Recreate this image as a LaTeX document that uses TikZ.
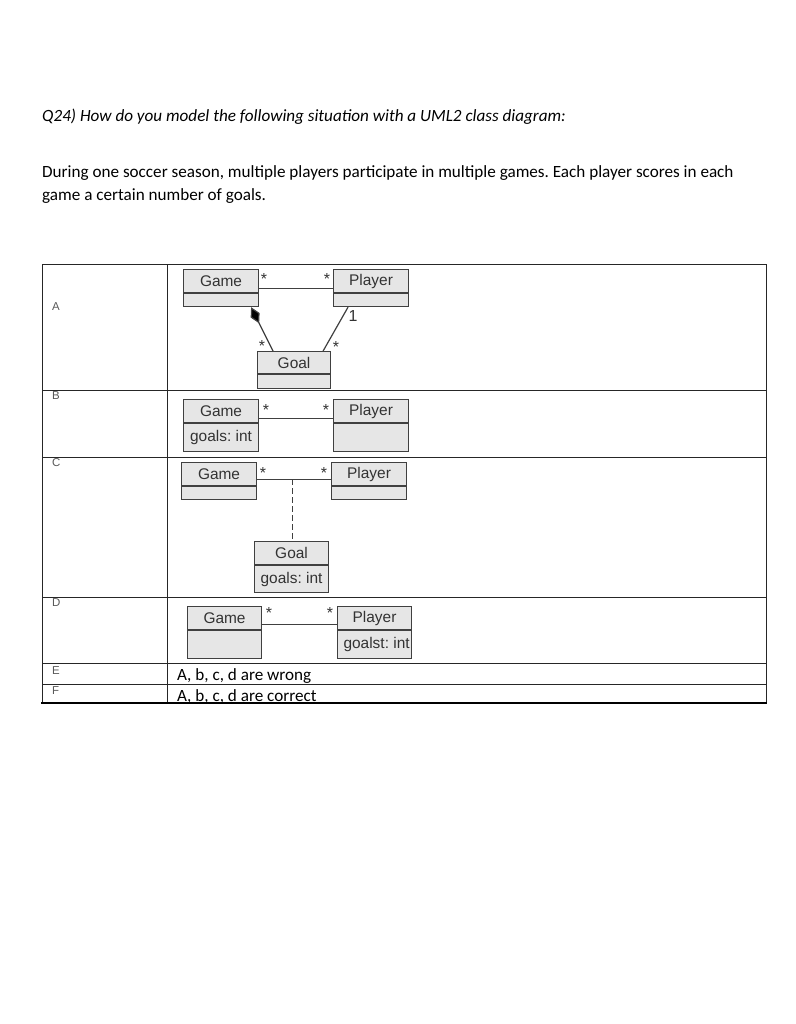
\documentclass[tikz,border=0pt]{standalone}
\usepackage{fontspec}
\setmainfont{Carlito}
\newfontfamily\umlfont{Liberation Sans}
\usetikzlibrary{positioning,arrows.meta}
\definecolor{umlfill}{HTML}{E6E6E6}
\definecolor{umlline}{HTML}{404040}
\definecolor{umltext}{HTML}{333333}
\tikzset{
  cls/.style={draw=umlline, fill=umlfill, line width=1.1bp, inner sep=0pt,
    minimum width=75bp, minimum height=23bp, text=umltext,
    font=\umlfont\fontsize{15.5}{17}\selectfont},
  att/.style={cls, minimum height=13bp},
  mult/.style={anchor=base, inner sep=0pt, text=umltext, font=\umlfont\fontsize{16}{16}\selectfont},
  assoc/.style={umlline, line width=1.2bp},
  rowlbl/.style={anchor=west, inner sep=0pt, text=black!65,
    font=\umlfont\fontsize{11.5}{12}\selectfont},
  txt/.style={anchor=base west, inner sep=0pt, font=\fontsize{17.2}{20}\selectfont},
  grid/.style={black!85, line width=1bp},
}
\begin{document}
\frenchspacing
\begin{tikzpicture}[x=1bp,y=-1bp]
    \fill[white] (0,0) rectangle (796,1024);
    \useasboundingbox (0,0) rectangle (796,1024);
    %% question
    \node[txt, font=\fontsize{17.2}{20}\selectfont\itshape] (question) at (42,121)
        {Q24) How do you model the following situation with a UML2 class diagram:};
    \node[txt] (story1) at (42,177)
        {During one soccer season, multiple players participate in multiple games. Each player scores in each};
    \node[txt] (story2) at (42,200) {game a certain number of goals.};
    %% table
    \draw[grid] (42,264) rectangle (766,703);
    \draw[grid] (167,264) -- (167,703);
    \foreach \y in {390,457,597,663,684}
        \draw[grid] (42,\y) -- (766,\y);
    \node[rowlbl] (lblA) at (52,307) {A};
    \node[rowlbl] (lblB) at (52,396) {B};
    \node[rowlbl] (lblC) at (52,463) {C};
    \node[rowlbl] (lblD) at (52,603) {D};
    \node[rowlbl] (lblE) at (52,671) {E};
    \node[rowlbl] (lblF) at (52,691) {F};
    %% A: composition
    \node[cls, anchor=north west] (gameA) at (183,269) {Game};
    \node[att, below=0pt of gameA] (gameAatt) {};
    \node[cls, anchor=north west] (playerA) at (333,269) {Player};
    \node[att, below=0pt of playerA] (playerAatt) {};
    \node[cls, anchor=north west, minimum width=73bp, minimum height=22bp] (goalA) at (257,351) {Goal};
    \node[att, below=0pt of goalA, minimum width=73bp, minimum height=14bp] (goalAatt) {};
    \draw[assoc] ([yshift=5bp]gameA.south east) -- ([yshift=5bp]playerA.south west);
    \draw[assoc, {Diamond[length=18bp,width=10bp,fill=black]}-]
        ([xshift=-8bp]gameAatt.south east) -- ([xshift=16bp]goalA.north west);
    \draw[assoc] ([xshift=15bp]playerAatt.south west) -- ([xshift=-8bp]goalA.north east);
    \node[mult] at (264,284) {*};
    \node[mult] at (327,284) {*};
    \node[mult] at (262,351) {*};
    \node[mult] at (353,321) {1};
    \node[mult] at (336,352) {*};
    %% B: attribute in Game
    \node[cls, anchor=north west] (gameB) at (183,399) {Game};
    \node[att, below=0pt of gameB, minimum height=28bp] (gameBatt) {goals: int};
    \node[cls, anchor=north west] (playerB) at (333,399) {Player};
    \node[att, below=0pt of playerB, minimum height=28bp] (playerBatt) {};
    \draw[assoc] ([yshift=5bp]gameB.south east) -- ([yshift=5bp]playerB.south west);
    \node[mult] at (266,415) {*};
    \node[mult] at (326,415) {*};
    %% C: association class
    \node[cls, anchor=north west] (gameC) at (181,462) {Game};
    \node[att, below=0pt of gameC] (gameCatt) {};
    \node[cls, anchor=north west] (playerC) at (331,462) {Player};
    \node[att, below=0pt of playerC] (playerCatt) {};
    \node[cls, anchor=north west, minimum width=74bp] (goalC) at (254,541) {Goal};
    \node[att, below=0pt of goalC, minimum width=74bp, minimum height=27bp] (goalCatt) {goals: int};
    \draw[assoc] ([yshift=7bp]gameC.south east) -- ([yshift=7bp]playerC.south west)
        coordinate[pos=0.48] (assocC);
    \draw[assoc, dash pattern=on 6bp off 3bp] (assocC) -- (assocC |- goalC.north);
    \node[mult] at (263,478) {*};
    \node[mult] at (324,478) {*};
    %% D: attribute in Player
    \node[cls, anchor=north west, minimum width=74bp] (gameD) at (187,606) {Game};
    \node[att, below=0pt of gameD, minimum width=74bp, minimum height=28bp] (gameDatt) {};
    \node[cls, anchor=north west, minimum width=74bp] (playerD) at (337,606) {Player};
    \node[att, below=0pt of playerD, minimum width=74bp, minimum height=28bp] (playerDatt)
        {\makebox[62bp][l]{goalst: int}};
    \draw[assoc] ([yshift=6bp]gameD.south east) -- ([yshift=6bp]playerD.south west);
    \node[mult] at (269,618) {*};
    \node[mult] at (330,618) {*};
    %% E, F
    \node[txt] (optE) at (177,680) {A, b, c, d are wrong};
    \node[txt] (optF) at (177,701) {A, b, c, d are correct};
    \fill[white] (30,703) rectangle (780,730);
    \draw[line width=2.5bp] (41,703) -- (767,703);
\end{tikzpicture}
\end{document}
